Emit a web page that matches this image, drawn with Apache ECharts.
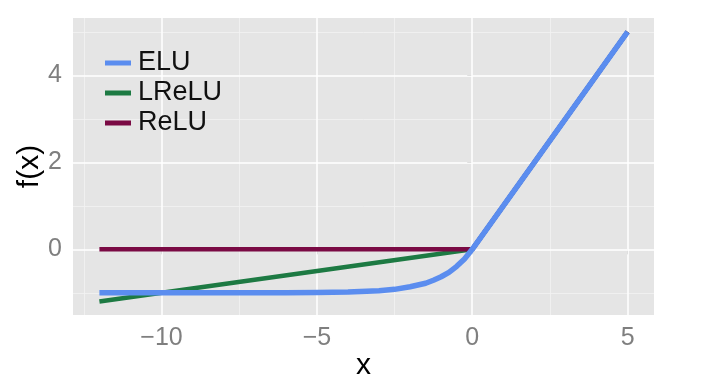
<!DOCTYPE html>
<html><head><meta charset="utf-8">
<script src="https://cdn.jsdelivr.net/npm/echarts@6/dist/echarts.min.js"></script>
<style>html,body{margin:0;padding:0;background:#fff}#c{width:720px;height:386px}</style>
</head><body><div id="c"></div>
<script>
// Data
var eluX  = [-12, -10, -8, -6, -5, -4, -3, -2.5, -2, -1.5, -1.25, -1, -0.75, -0.5, -0.25, 0, 5];
var eluY  = [-1.0, -1.0, -1.0, -1.0, -0.99, -0.98, -0.95, -0.92, -0.86, -0.78, -0.71, -0.63, -0.53, -0.39, -0.22, 0, 5];
var lreluX = [-12, 0, 5];
var lreluY = [-1.2, 0, 5];
var reluX = [-12, 0, 5];
var reluY = [0, 0, 5];
var xTicks = [-10, -5, 0, 5];
var xMinor = [-12.5, -7.5, -2.5, 2.5];
var yTicks = [0, 2, 4];
var yMinor = [-1, 1, 3, 5];
var seriesNames = ['ELU', 'LReLU', 'ReLU'];
var colors = {ELU: '#5B8DEF', LReLU: '#1D7A43', ReLU: '#7A0A44'};

function pairs(xs, ys){ return xs.map(function(x,i){ return [x, ys[i]]; }); }
function fmt(v){ return String(v).replace('-', '\u2212'); }

var gridLines = [];
xMinor.forEach(function(v){ gridLines.push({xAxis: v, lineStyle:{color:'#F2F2F2', width:0.8, type:'solid'}}); });
yMinor.forEach(function(v){ gridLines.push({yAxis: v, lineStyle:{color:'#F2F2F2', width:0.8, type:'solid'}}); });
xTicks.forEach(function(v){ gridLines.push({xAxis: v, lineStyle:{color:'#FFFFFF', width:1.5, type:'solid'}}); });
yTicks.forEach(function(v){ gridLines.push({yAxis: v, lineStyle:{color:'#FFFFFF', width:1.5, type:'solid'}}); });

var chart = echarts.init(document.getElementById('c'), null, {renderer:'canvas'});
chart.setOption({
  animation: false,
  textStyle: {fontFamily: 'Liberation Sans, Arial, sans-serif'},
  grid: {left: 73, right: 66, top: 18, bottom: 71, show: true, backgroundColor: '#E5E5E5', borderWidth: 0,
         containLabel: false, outerBoundsMode: 'none'},
  legend: {
    data: seriesNames, orient: 'vertical', left: 105, top: 49, padding: 0, itemGap: 2,
    icon: 'rect', itemWidth: 26, itemHeight: 5,
    textStyle: {fontSize: 27, color: '#111', lineHeight: 28, padding: [0,0,0,2]}
  },
  xAxis: {
    type: 'value', min: -12.85, max: 5.85,
    name: 'x', nameLocation: 'middle', nameGap: 36, nameMoveOverlap: false,
    nameTextStyle: {fontSize: 30, color: '#000'},
    axisLine: {show: false},
    axisTick: {show: true, customValues: xTicks, length: 5, lineStyle: {color: '#7F7F7F', width: 1}},
    axisLabel: {customValues: xTicks, formatter: fmt, fontSize: 25, color: '#7F7F7F', margin: 11},
    splitLine: {show: false}
  },
  yAxis: {
    type: 'value', min: -1.51, max: 5.32,
    name: 'f(x)', nameLocation: 'middle', nameGap: 28, nameRotate: 90, nameMoveOverlap: false,
    nameTextStyle: {fontSize: 30, color: '#000'},
    axisLine: {show: false},
    axisTick: {show: true, customValues: yTicks, length: 5, lineStyle: {color: '#7F7F7F', width: 1}},
    axisLabel: {customValues: yTicks, formatter: fmt, fontSize: 25, color: '#7F7F7F', margin: 11},
    splitLine: {show: false}
  },
  series: [
    {name: 'LReLU', type: 'line', data: pairs(lreluX, lreluY), showSymbol: false, z: 2,
     lineStyle: {color: colors.LReLU, width: 4.5}, itemStyle: {color: colors.LReLU},
     markLine: {silent: true, symbol: 'none', label: {show: false}, z: 1, data: gridLines, animation: false}},
    {name: 'ReLU', type: 'line', data: pairs(reluX, reluY), showSymbol: false, z: 3,
     lineStyle: {color: colors.ReLU, width: 4.5}, itemStyle: {color: colors.ReLU}},
    {name: 'ELU', type: 'line', data: pairs(eluX, eluY), showSymbol: false, z: 4,
     lineStyle: {color: colors.ELU, width: 5.5}, itemStyle: {color: colors.ELU}}
  ]
});
</script></body></html>
